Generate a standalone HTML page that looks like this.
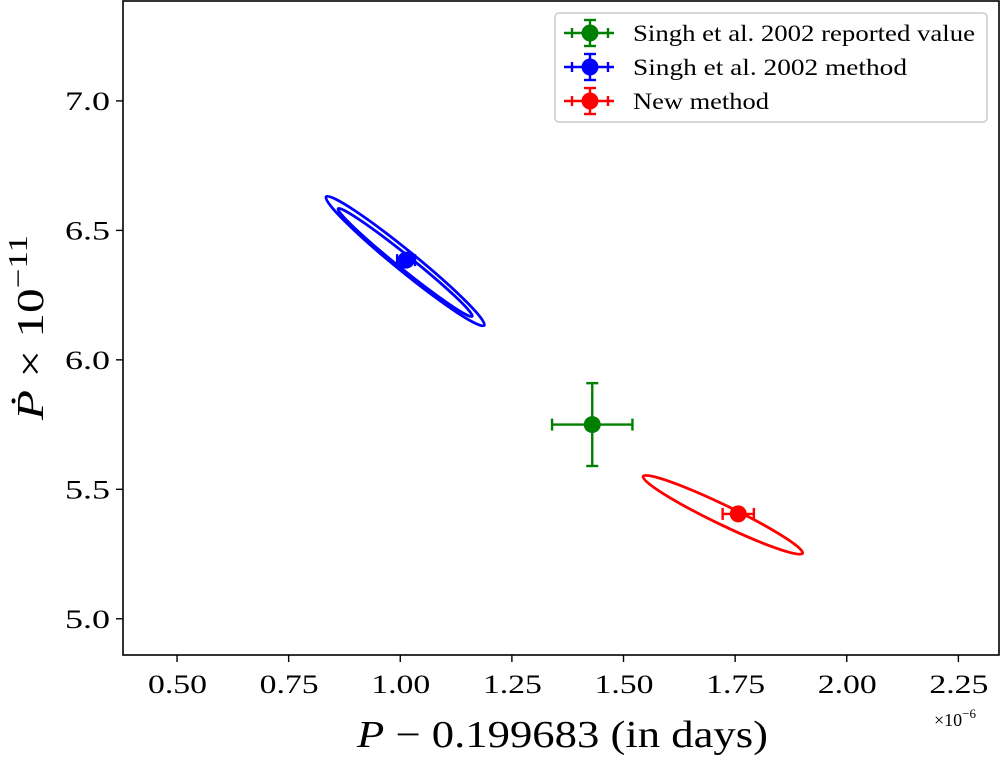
<!DOCTYPE html>
<html><head><meta charset="utf-8"><style>
body{margin:0;background:#fff;}
svg text{font-family:"Liberation Serif","DejaVu Serif",serif;fill:#000;}
</style></head><body>
<svg id="chart" width="1001" height="756" xmlns="http://www.w3.org/2000/svg">
<g id="plot"></g>
</svg>
<script>
const xTicks=[0.50,0.75,1.00,1.25,1.50,1.75,2.00,2.25];
const xTickLabels=["0.50","0.75","1.00","1.25","1.50","1.75","2.00","2.25"];
const yTicks=[5.0,5.5,6.0,6.5,7.0];
const yTickLabels=["5.0","5.5","6.0","6.5","7.0"];
const seriesNames=["Singh et al. 2002 reported value","Singh et al. 2002 method","New method"];
const seriesColors=["#008000","#0000ff","#ff0000"];
const pointX=[1.43,1.013,1.757];
const pointY=[5.75,6.385,5.405];
const errX=[0.09,0.02,0.035];
const errY=[0.16,0.02,0.015];
const ellSeries=[1,1,2];
const ellX1=[0.834,0.861,1.544];
const ellY1=[6.630,6.584,5.550];
const ellX2=[1.188,1.161,1.901];
const ellY2=[6.133,6.168,5.253];
const ellRatio=[0.1,0.08,0.11];

const L=123,R=999,T=1,B=655;
const xMin=0.379,xMax=2.341,yMin=4.860,yMax=7.386;
const sx=v=>L+(v-xMin)/(xMax-xMin)*(R-L);
const sy=v=>B-(v-yMin)/(yMax-yMin)*(B-T);
const NS="http://www.w3.org/2000/svg";
const g=document.getElementById('plot');
function mk(tag,attrs,parent){const e=document.createElementNS(NS,tag);for(const k in attrs)e.setAttribute(k,attrs[k]);(parent||g).appendChild(e);return e;}

ellSeries.forEach((s,i)=>{
  const x1=sx(ellX1[i]),y1=sy(ellY1[i]),x2=sx(ellX2[i]),y2=sy(ellY2[i]);
  const cx=(x1+x2)/2,cy=(y1+y2)/2,a=Math.hypot(x2-x1,y2-y1)/2;
  const ang=Math.atan2(y2-y1,x2-x1)*180/Math.PI;
  const e=mk('ellipse',{cx:cx,cy:cy,rx:a,ry:a*ellRatio[i],transform:`rotate(${ang} ${cx} ${cy})`,fill:'none',stroke:seriesColors[s],'stroke-width':2.8});
  
  
});
pointX.forEach((v,i)=>{
  const grp=mk('g',{});
  
  
  const c=seriesColors[i],px=sx(v),py=sy(pointY[i]);
  const xa=sx(v-errX[i]),xb=sx(v+errX[i]),ya=sy(pointY[i]-errY[i]),yb=sy(pointY[i]+errY[i]);
  mk('line',{x1:xa,y1:py,x2:xb,y2:py,stroke:c,'stroke-width':2.4},grp);
  mk('line',{x1:px,y1:ya,x2:px,y2:yb,stroke:c,'stroke-width':2.4},grp);
  [xa,xb].forEach(x=>mk('line',{x1:x,y1:py-6,x2:x,y2:py+6,stroke:c,'stroke-width':2.4},grp));
  [ya,yb].forEach(y=>mk('line',{x1:px-6,y1:y,x2:px+6,y2:y,stroke:c,'stroke-width':2.4},grp));
  mk('circle',{cx:px,cy:py,r:8.5,fill:c},grp);
});
const fr=mk('rect',{x:L,y:T,width:R-L,height:B-T,fill:'none',stroke:'#000','stroke-width':1.6});

xTicks.forEach((v,i)=>{
  const x=sx(v);
  const t=mk('line',{x1:x,y1:B,x2:x,y2:B+7,stroke:'#000','stroke-width':1.4});
  
  const lb=mk('text',{x:x-29,y:B+38,'font-size':26,textLength:59,lengthAdjust:'spacingAndGlyphs'});
  lb.textContent=xTickLabels[i];
  
});
yTicks.forEach((v,i)=>{
  const y=sy(v);
  const t=mk('line',{x1:L-7,y1:y,x2:L,y2:y,stroke:'#000','stroke-width':1.4});
  
  const lb=mk('text',{x:L-58,y:y+9,'font-size':26,textLength:45,lengthAdjust:'spacingAndGlyphs'});
  lb.textContent=yTickLabels[i];
  
});
const lg=mk('g',{});

mk('rect',{x:555,y:13,width:432,height:109,rx:4,fill:'#fff',stroke:'#ccc','stroke-width':1.5},lg);
const legLens=[342,274,136];
seriesNames.forEach((n,i)=>{
  const e=mk('g',{},lg);
  
  
  const y=33+i*34,c=seriesColors[i];
  mk('line',{x1:564,y1:y,x2:614,y2:y,stroke:c,'stroke-width':2.4},e);
  mk('line',{x1:590,y1:y-13,x2:590,y2:y+13,stroke:c,'stroke-width':2.4},e);
  [572,608].forEach(x=>mk('line',{x1:x,y1:y-5,x2:x,y2:y+5,stroke:c,'stroke-width':2.4},e));
  [y-13,y+13].forEach(yy=>mk('line',{x1:584,y1:yy,x2:596,y2:yy,stroke:c,'stroke-width':2.4},e));
  mk('circle',{cx:590,cy:y,r:8.5,fill:c},e);
  const t=mk('text',{x:633,y:y+8,'font-size':23,textLength:legLens[i],lengthAdjust:'spacingAndGlyphs'},e);t.textContent=n;
});
</script>
<svg style="position:absolute;left:0;top:0" width="1001" height="756" xmlns="http://www.w3.org/2000/svg">
<text x="357" y="747" font-size="38" textLength="411" lengthAdjust="spacingAndGlyphs" font-family="Liberation Serif, serif"><tspan font-style="italic">P</tspan> − 0.199683 (in days)</text>
<text x="934" y="726" font-size="18" font-family="Liberation Serif, serif">×10<tspan dy="-8" font-size="13">−6</tspan></text>
<text transform="translate(43 420) rotate(-90)" font-size="38" textLength="185" lengthAdjust="spacingAndGlyphs" font-family="Liberation Serif, serif"><tspan font-style="italic">Ṗ</tspan> × 10<tspan dy="-16" font-size="27">−11</tspan></text>
</svg>
</body></html>
